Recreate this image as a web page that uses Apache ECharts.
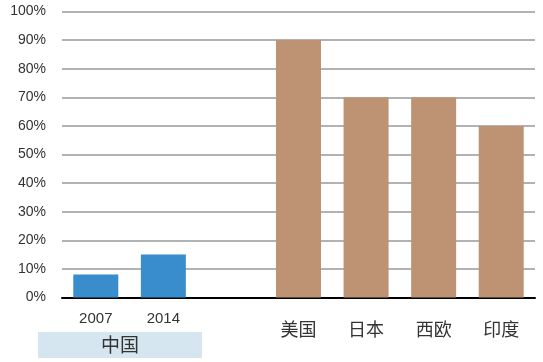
<!DOCTYPE html>
<html>
<head>
<meta charset="utf-8">
<script src="https://cdn.jsdelivr.net/npm/echarts@6/dist/echarts.min.js"></script>
<style>html,body{margin:0;padding:0;background:#fff}#c{width:543px;height:362px}</style>
</head>
<body>
<div id="c"></div>
<script>
var categories = ['2007', '2014', '', '美国', '日本', '西欧', '印度'];
var values = [8, 15, null, 90, 70, 70, 60];
var groups = ['cn', 'cn', '', 'other', 'other', 'other', 'other'];
var groupColors = { cn: '#3a8dcc', other: '#be9373' };
var yTicks = { min: 0, max: 100, interval: 10 };
var groupLabel = '中国';

var chart = echarts.init(document.getElementById('c'), null, { renderer: 'canvas' });
var data = values.map(function (v, i) {
  return { value: v, itemStyle: { color: groupColors[groups[i]] || '#000' } };
});
chart.setOption({
  animation: false,
  grid: { left: 62, right: 8, top: 11.5, bottom: 64.5 },
  xAxis: {
    type: 'category',
    data: categories,
    axisLine: { lineStyle: { color: '#000', width: 2 } },
    axisTick: { show: false },
    axisLabel: {
      interval: 0,
      margin: 14,
      formatter: function (v) {
        return /^\d+$/.test(v) ? '{num|' + v + '}' : '{cjk|' + v + '}';
      },
      rich: {
        num: { fontFamily: 'Liberation Sans, Arial', fontSize: 15, color: '#333' },
        cjk: { fontFamily: 'Noto Sans CJK SC', fontSize: 18, color: '#333', padding: [9, 0, 0, 0] }
      }
    }
  },
  yAxis: {
    type: 'value',
    min: yTicks.min, max: yTicks.max, interval: yTicks.interval,
    axisLine: { show: false },
    axisTick: { show: false },
    axisLabel: {
      formatter: '{value}%', margin: 16,
      fontFamily: 'Liberation Sans, Arial', fontSize: 14, color: '#333'
    },
    splitLine: { lineStyle: { color: '#999', width: 1.5 } }
  },
  series: [{
    type: 'bar',
    data: data,
    barWidth: 45
  }],
  graphic: [
    { type: 'rect', shape: { x: 38, y: 332, width: 164, height: 26 }, style: { fill: '#d6e6f0' } },
    { type: 'text', x: 120, y: 345, style: { text: groupLabel, font: '19px "Noto Sans CJK SC"', fill: '#333', textAlign: 'center', textVerticalAlign: 'middle' } }
  ]
});
</script>
</body>
</html>
